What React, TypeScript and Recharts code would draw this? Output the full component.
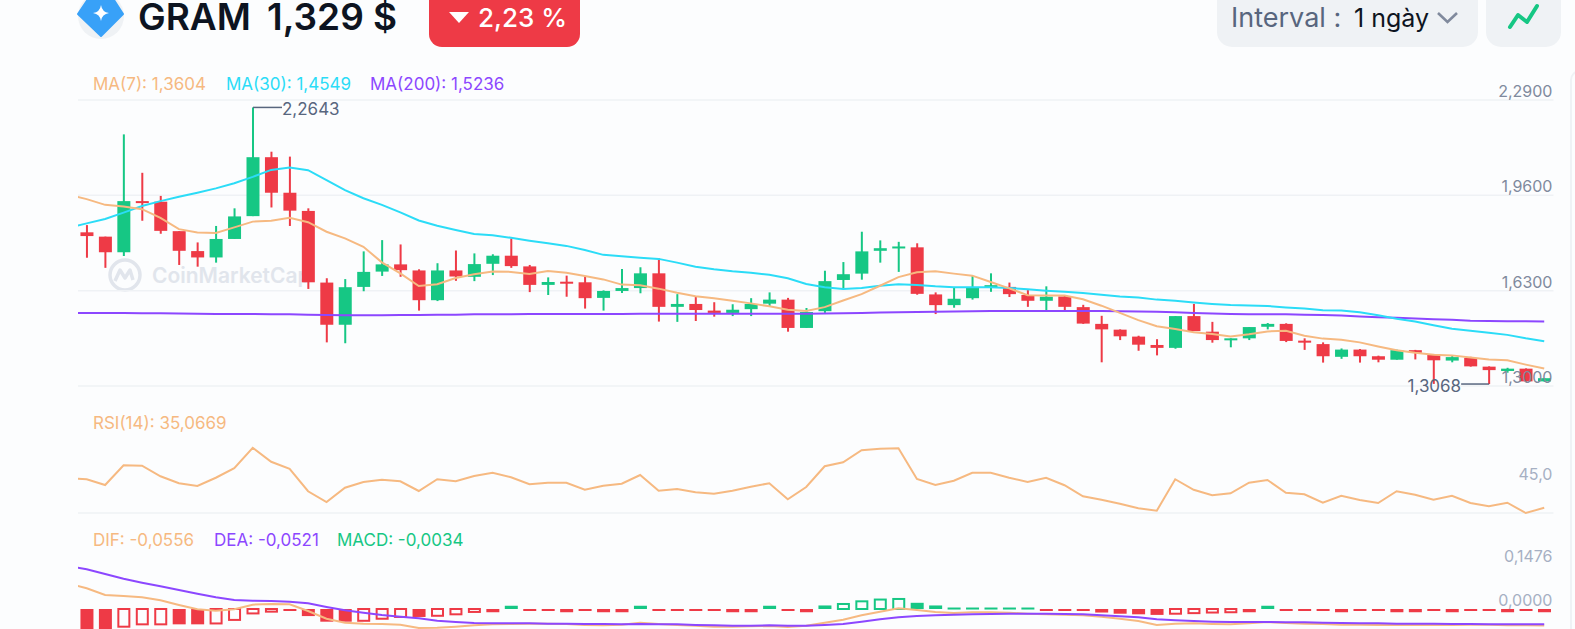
import { ComposedChart, Bar, Line, XAxis, YAxis, CartesianGrid, ReferenceLine } from 'recharts';

const RED = '#ee3a46';
const GREEN = '#16c784';
const ORANGE = '#f6b981';
const CYAN = '#2bdcf7';
const PURPLE = '#8c47ff';
const BG = '#fcfdfe';
const GRID = '#eff2f5';
const FONT = 'Inter, sans-serif';

// one candle per day
const opens = [
  1.832, 1.817, 1.763, 1.94, 1.938, 1.836, 1.767, 1.745, 1.809, 1.888,
  2.092, 1.969, 1.906, 1.658, 1.512, 1.643, 1.696, 1.721, 1.7, 1.597,
  1.7, 1.678, 1.723, 1.751, 1.714, 1.65, 1.661, 1.659, 1.605, 1.629,
  1.639, 1.69, 1.574, 1.584, 1.561, 1.553, 1.566, 1.585, 1.599, 1.501,
  1.559, 1.667, 1.689, 1.768, 1.778, 1.78, 1.617, 1.58, 1.604, 1.642,
  1.643, 1.615, 1.595, 1.61, 1.573, 1.515, 1.495, 1.471, 1.442, 1.432,
  1.542, 1.488, 1.46, 1.465, 1.505, 1.515, 1.457, 1.445, 1.401, 1.426,
  1.403, 1.391, 1.424, 1.408, 1.388, 1.397, 1.367, 1.352, 1.36, 1.316,
];
const closes = [
  1.819, 1.763, 1.94, 1.936, 1.837, 1.768, 1.745, 1.809, 1.887, 2.092,
  1.969, 1.907, 1.659, 1.512, 1.642, 1.695, 1.721, 1.701, 1.597, 1.7,
  1.679, 1.722, 1.751, 1.715, 1.65, 1.66, 1.655, 1.604, 1.629, 1.639,
  1.69, 1.574, 1.584, 1.563, 1.553, 1.564, 1.584, 1.599, 1.501, 1.556,
  1.663, 1.687, 1.766, 1.777, 1.783, 1.619, 1.58, 1.602, 1.642, 1.649,
  1.618, 1.595, 1.609, 1.574, 1.516, 1.496, 1.472, 1.443, 1.432, 1.542,
  1.49, 1.459, 1.465, 1.504, 1.515, 1.456, 1.45, 1.403, 1.426, 1.403,
  1.391, 1.424, 1.415, 1.389, 1.4, 1.368, 1.355, 1.36, 1.316, 1.327,
];
const lows = [
  1.744, 1.709, 1.75, 1.872, 1.827, 1.719, 1.713, 1.727, 1.809, 1.888,
  1.918, 1.854, 1.636, 1.451, 1.448, 1.628, 1.681, 1.678, 1.561, 1.594,
  1.664, 1.663, 1.684, 1.709, 1.625, 1.615, 1.609, 1.568, 1.561, 1.622,
  1.621, 1.523, 1.522, 1.525, 1.54, 1.542, 1.542, 1.577, 1.488, 1.501,
  1.553, 1.636, 1.668, 1.727, 1.695, 1.616, 1.549, 1.571, 1.599, 1.626,
  1.608, 1.574, 1.562, 1.563, 1.515, 1.382, 1.459, 1.422, 1.406, 1.429,
  1.49, 1.45, 1.434, 1.459, 1.496, 1.452, 1.425, 1.381, 1.394, 1.381,
  1.382, 1.391, 1.392, 1.3072, 1.382, 1.367, 1.3068, 1.346, 1.315, 1.315,
];
const highs = [
  1.857, 1.817, 2.171, 2.038, 1.958, 1.836, 1.797, 1.854, 1.915, 2.2643,
  2.111, 2.094, 1.915, 1.673, 1.67, 1.766, 1.805, 1.79, 1.704, 1.725,
  1.769, 1.759, 1.756, 1.811, 1.719, 1.676, 1.682, 1.678, 1.631, 1.705,
  1.711, 1.742, 1.618, 1.609, 1.59, 1.583, 1.604, 1.624, 1.605, 1.57,
  1.699, 1.729, 1.834, 1.804, 1.799, 1.794, 1.624, 1.64, 1.681, 1.69,
  1.658, 1.632, 1.645, 1.614, 1.581, 1.543, 1.496, 1.474, 1.462, 1.542,
  1.584, 1.522, 1.465, 1.504, 1.518, 1.517, 1.465, 1.451, 1.43, 1.428,
  1.405, 1.426, 1.425, 1.411, 1.407, 1.401, 1.368, 1.363, 1.361, 1.327,
];

// the line arrays carry one extra leading value: the lines come in from off the left edge
const ma7 = [
  1.963, 1.947, 1.927, 1.921, 1.912, 1.882, 1.843, 1.831, 1.83, 1.849, 1.869,
  1.872, 1.882, 1.867, 1.834, 1.811, 1.782, 1.728, 1.69, 1.646, 1.652,
  1.674, 1.687, 1.696, 1.695, 1.688, 1.698, 1.692, 1.681, 1.669, 1.651,
  1.649, 1.637, 1.623, 1.611, 1.604, 1.595, 1.586, 1.576, 1.564, 1.56,
  1.573, 1.596, 1.618, 1.647, 1.677, 1.694, 1.697, 1.689, 1.682, 1.66,
  1.638, 1.614, 1.613, 1.613, 1.6, 1.578, 1.553, 1.528, 1.507, 1.497,
  1.486, 1.48, 1.471, 1.479, 1.489, 1.491, 1.474, 1.464, 1.46, 1.451,
  1.437, 1.424, 1.415, 1.408, 1.406, 1.399, 1.392, 1.389, 1.374, 1.3604,
];
const ma30 = [
  1.847, 1.863, 1.878, 1.9, 1.923, 1.94, 1.955, 1.969, 1.984, 2.002, 2.024,
  2.048, 2.056, 2.047, 2.013, 1.978, 1.95, 1.927, 1.901, 1.873, 1.855,
  1.84, 1.826, 1.822, 1.813, 1.803, 1.794, 1.785, 1.771, 1.754, 1.749,
  1.744, 1.74, 1.727, 1.713, 1.704, 1.697, 1.692, 1.685, 1.673, 1.653,
  1.642, 1.636, 1.639, 1.647, 1.652, 1.65, 1.645, 1.642, 1.642, 1.642,
  1.639, 1.635, 1.63, 1.626, 1.622, 1.616, 1.61, 1.606, 1.599, 1.595,
  1.589, 1.584, 1.58, 1.579, 1.577, 1.572, 1.568, 1.562, 1.561, 1.555,
  1.545, 1.533, 1.523, 1.51, 1.498, 1.491, 1.484, 1.477, 1.465, 1.4549,
];
const ma200 = [
  1.553, 1.553, 1.553, 1.553, 1.552, 1.552, 1.551, 1.55, 1.549, 1.549, 1.549,
  1.548, 1.548, 1.547, 1.546, 1.545, 1.545, 1.545, 1.546, 1.546, 1.547,
  1.547, 1.548, 1.548, 1.548, 1.549, 1.549, 1.549, 1.549, 1.549, 1.549,
  1.55, 1.55, 1.55, 1.55, 1.55, 1.55, 1.55, 1.55, 1.55, 1.55,
  1.551, 1.552, 1.553, 1.554, 1.555, 1.556, 1.557, 1.558, 1.559, 1.56,
  1.56, 1.56, 1.56, 1.56, 1.56, 1.56, 1.559, 1.558, 1.557, 1.555,
  1.553, 1.551, 1.549, 1.548, 1.548, 1.548, 1.547, 1.546, 1.544, 1.541,
  1.538, 1.536, 1.534, 1.531, 1.529, 1.526, 1.525, 1.524, 1.524, 1.5236,
];
const rsi = [
  46.9, 46.5, 44.2, 52.1, 51.9, 47.7, 44.9, 43.8, 47.1, 50.9, 59.1,
  53.5, 50.7, 41.7, 37.4, 43.1, 45.4, 46.3, 45.7, 41.8, 46.5,
  45.7, 47.8, 49.1, 47.3, 44.5, 45.1, 45.1, 42.3, 43.9, 44.7,
  48.2, 41.9, 42.6, 41.3, 40.7, 41.9, 43.5, 44.9, 38.5, 43.4,
  51.7, 53.3, 58.1, 58.7, 58.9, 46.6, 44.2, 45.9, 49.1, 49.1,
  47.1, 45.4, 47.1, 44.1, 39.7, 38.3, 36.7, 34.9, 33.9, 46.5,
  42.3, 40.1, 40.9, 45.1, 46.2, 41.1, 40.5, 37.1, 39.9, 38.2,
  37.0, 41.7, 40.3, 38.3, 39.9, 37.0, 35.7, 37.1, 33.0, 35.07,
];
const dif = [
  0.087, 0.0701, 0.0475, 0.0441, 0.0395, 0.0294, 0.0136, -0.0011, -0.0056, -0.0011, 0.0147,
  0.0169, 0.0158, -0.0068, -0.0328, -0.0463, -0.0497, -0.0508, -0.0531, -0.0644, -0.0633,
  -0.0599, -0.0554, -0.052, -0.0508, -0.0497, -0.0497, -0.0508, -0.0542, -0.0554, -0.0531,
  -0.0463, -0.0508, -0.0542, -0.0565, -0.0599, -0.0599, -0.0588, -0.0576, -0.061, -0.0565,
  -0.0463, -0.0362, -0.0215, -0.009, 0.0023, -0.0034, -0.0102, -0.0136, -0.0113, -0.0113,
  -0.0124, -0.0158, -0.0181, -0.0192, -0.0215, -0.026, -0.0328, -0.0407, -0.0542, -0.0497,
  -0.0486, -0.0508, -0.052, -0.0486, -0.0441, -0.0475, -0.0497, -0.0508, -0.0531, -0.0531,
  -0.0542, -0.0542, -0.0531, -0.0542, -0.0542, -0.0531, -0.0531, -0.0554, -0.0554, -0.0556,
];
const dea = [
  0.1458, 0.1345, 0.1186, 0.1028, 0.0893, 0.0768, 0.0644, 0.052, 0.0395, 0.0305, 0.0282,
  0.0271, 0.0249, 0.0192, 0.0068, -0.0045, -0.0124, -0.0203, -0.026, -0.0316, -0.0395,
  -0.0441, -0.0475, -0.0486, -0.0486, -0.0486, -0.0497, -0.0497, -0.0508, -0.0508, -0.052,
  -0.0508, -0.052, -0.052, -0.0542, -0.0554, -0.0565, -0.0565, -0.0554, -0.0565, -0.0565,
  -0.0542, -0.0508, -0.0429, -0.035, -0.0282, -0.0237, -0.0215, -0.0192, -0.0181, -0.0169,
  -0.0158, -0.0158, -0.0158, -0.0169, -0.0181, -0.0215, -0.0249, -0.0282, -0.035, -0.0384,
  -0.0407, -0.043, -0.0441, -0.0441, -0.0441, -0.0452, -0.0452, -0.0463, -0.0475, -0.0486,
  -0.0486, -0.0497, -0.0497, -0.0497, -0.0508, -0.0508, -0.052, -0.052, -0.0521, -0.0521,
];
const macd = [
  -0.075, -0.075, -0.06, -0.052, -0.052, -0.052, -0.052, -0.049, -0.037, -0.015,
  -0.009, -0.005, -0.024, -0.043, -0.043, -0.04, -0.033, -0.027, -0.027, -0.023,
  -0.018, -0.01, -0.011, 0.011, -0.005, -0.005, -0.011, -0.005, -0.011, -0.011,
  0.011, -0.005, -0.005, -0.005, -0.005, -0.011, -0.011, 0.011, -0.005, -0.011,
  0.012, 0.017, 0.026, 0.032, 0.034, 0.021, 0.012, 0.005, 0.005, 0.005,
  0.005, 0.005, -0.005, -0.005, -0.005, -0.012, -0.016, -0.018, -0.02, -0.016,
  -0.014, -0.012, -0.011, -0.011, 0.011, -0.005, -0.005, -0.005, -0.011, -0.005,
  -0.005, -0.011, -0.011, -0.005, -0.011, -0.005, -0.005, -0.011, -0.005, -0.011,
];
const hollowBars = [2, 3, 4, 7, 8, 9, 10, 15, 16, 17, 19, 20, 21, 41, 42, 43, 44, 59, 60, 61, 62];

const priceTicks = [1.3, 1.63, 1.96, 2.29];
const rsiTicks = [45];
const macdTicks = [0, 0.1476];
const peakIndex = 9;
const troughIndex = 76;

const rows = ma7.map((m, k) => {
  const i = k - 1;
  const row: any = { idx: k, ma7: m, ma30: ma30[k], ma200: ma200[k], rsi: rsi[k], dif: dif[k], dea: dea[k] };
  if (i >= 0) {
    row.i = i;
    row.open = opens[i];
    row.close = closes[i];
    row.low = lows[i];
    row.high = highs[i];
    row.range = [lows[i], highs[i]];
    row.macd = macd[i];
    row.hollow = hollowBars.includes(i);
  }
  return row;
});

const comma = (v: number, digits: number) => v.toFixed(digits).replace('.', ',');

function Candle(props: any) {
  const { x, y, width, height, payload } = props;
  if (!payload || payload.open == null) return null;
  const top = Math.min(y, y + height);
  const h = Math.abs(height);
  const perUnit = h / (payload.high - payload.low);
  const color = payload.close >= payload.open ? GREEN : RED;
  const bodyTop = top + (payload.high - Math.max(payload.open, payload.close)) * perUnit;
  const bodyH = Math.max(Math.abs(payload.open - payload.close) * perUnit, 2);
  const cx = x + width / 2;
  return (
    <g>
      <rect x={cx - 1} y={top} width={2} height={h} fill={color} />
      <rect x={x} y={bodyTop} width={width} height={bodyH} fill={color} />
      {payload.i === peakIndex && (
        <g>
          <line x1={cx} y1={top} x2={cx + 29} y2={top} stroke="#58667e" strokeWidth={1.5} />
          <text x={cx + 29} y={top + 8} fontSize={17} fontFamily={FONT} fill="#58667e">
            {comma(payload.high, 4)}
          </text>
        </g>
      )}
      {payload.i === troughIndex && (
        <g>
          <line x1={cx} y1={top + h} x2={cx - 28} y2={top + h} stroke="#58667e" strokeWidth={1.5} />
          <text x={cx - 28} y={top + h + 8} fontSize={17} fontFamily={FONT} fill="#58667e" textAnchor="end">
            {comma(payload.low, 4)}
          </text>
        </g>
      )}
    </g>
  );
}

function MacdBar(props: any) {
  const { x, y, width, height, payload } = props;
  if (!payload || payload.macd == null) return null;
  const top = Math.min(y, y + height);
  const h = Math.max(Math.abs(height), 2);
  const color = payload.macd >= 0 ? GREEN : RED;
  if (payload.hollow) {
    return <rect x={x + 1} y={top} width={width - 2} height={h} fill={BG} stroke={color} strokeWidth={2} />;
  }
  return <rect x={x} y={top} width={width} height={h} fill={color} />;
}

const CHART_W = 1494.45;

const axisTick = (digits: number, color: string) => (props: any) => (
  <text x={CHART_W - 1} y={props.y - 3} textAnchor="end" fontSize={16} fontFamily={FONT} fill={color}>
    {comma(props.payload.value, digits)}
  </text>
);

function legendStyle(left: number, top: number, color: string): React.CSSProperties {
  return { position: 'absolute', left, top, color, fontSize: 17, lineHeight: '20px', whiteSpace: 'nowrap' };
}

function Header() {
  return (
    <>
      <svg width={60} height={46} style={{ position: 'absolute', left: 72, top: 0 }}>
        <circle cx={29} cy={16} r={23} fill="#eff2f5" />
        <path d="M29 -20 L51 14 L29 36 L6 14 Z" fill="#38a1f8" stroke="#38a1f8" strokeWidth={2} strokeLinejoin="round" />
        <path d="M29 5 Q30 12 37 13 Q30 14 29 21 Q28 14 21 13 Q28 12 29 5 Z" fill="#fff" />
      </svg>
      <div style={{ position: 'absolute', left: 138, top: 0, fontSize: 37, fontWeight: 600, lineHeight: '34px', color: '#0d1421' }}>GRAM</div>
      <div style={{ position: 'absolute', left: 267, top: 0, fontSize: 37, fontWeight: 600, lineHeight: '34px', color: '#0d1421' }}>1,329 $</div>
      <div style={{ position: 'absolute', left: 429, top: -14, width: 151, height: 61, background: RED, borderRadius: 13 }} />
      <svg width={22} height={12} style={{ position: 'absolute', left: 449, top: 12 }}>
        <path d="M0 0 H20 L10 11 Z" fill="#fff" />
      </svg>
      <div style={{ position: 'absolute', left: 478, top: 1, fontSize: 26, fontWeight: 500, lineHeight: '34px', color: '#fff', whiteSpace: 'nowrap' }}>2,23 %</div>

      <div style={{ position: 'absolute', left: 1217, top: -14, width: 261, height: 61, background: GRID, borderRadius: 15 }} />
      <div style={{ position: 'absolute', left: 1231, top: 1, fontSize: 27, lineHeight: '34px', color: '#58667e', whiteSpace: 'nowrap' }}>Interval :</div>
      <div style={{ position: 'absolute', left: 1354, top: 1, fontSize: 25, lineHeight: '34px', color: '#0d1421', whiteSpace: 'nowrap' }}>1 ngày</div>
      <svg width={24} height={14} style={{ position: 'absolute', left: 1436, top: 11 }}>
        <path d="M2 2 L11.5 11 L21 2" fill="none" stroke="#808a9d" strokeWidth={2.6} />
      </svg>
      <div style={{ position: 'absolute', left: 1486, top: -14, width: 75, height: 61, background: GRID, borderRadius: 15 }} />
      <svg width={40} height={32} style={{ position: 'absolute', left: 1504, top: 0 }}>
        <path d="M6 27 L14 15 L23 22 L33 6" fill="none" stroke={GREEN} strokeWidth={4} strokeLinecap="round" strokeLinejoin="round" />
      </svg>
      <div style={{ position: 'absolute', left: 1570, top: 70, width: 12, height: 600, borderLeft: `2px solid ${GRID}`, borderTop: `2px solid ${GRID}`, borderTopLeftRadius: 10 }} />
    </>
  );
}

function Watermark() {
  return (
    <>
      <svg width={36} height={36} style={{ position: 'absolute', left: 107, top: 257 }}>
        <circle cx={18} cy={18} r={15} fill="none" stroke="#e1e5ec" strokeWidth={3.5} />
        <path d="M8 24 L13 13 L18 21 L23 13 L26 23" fill="none" stroke="#e1e5ec" strokeWidth={3.5} strokeLinejoin="round" />
      </svg>
      <div style={{ position: 'absolute', left: 152, top: 262, fontSize: 21, fontWeight: 600, lineHeight: '28px', color: '#e1e5ec', whiteSpace: 'nowrap' }}>CoinMarketCap</div>
    </>
  );
}

export default function App() {
  return (
    <div style={{ position: 'fixed', left: 0, top: 0, width: 1575, height: 629, overflow: 'hidden', background: BG, fontFamily: FONT }}>
      <Header />

      <div style={legendStyle(93, 74, ORANGE)}>MA(7): 1,3604</div>
      <div style={legendStyle(226, 74, CYAN)}>MA(30): 1,4549</div>
      <div style={legendStyle(370, 74, PURPLE)}>MA(200): 1,5236</div>
      <div style={legendStyle(93, 413, ORANGE)}>RSI(14): 35,0669</div>
      <div style={legendStyle(93, 530, ORANGE)}>DIF: -0,0556</div>
      <div style={legendStyle(214, 530, PURPLE)}>DEA: -0,0521</div>
      <div style={legendStyle(337, 530, GREEN)}>MACD: -0,0034</div>

      <Watermark />

      <div style={{ position: 'absolute', left: 78, top: 0, width: 1476, height: 629, overflow: 'hidden' }}>
        <div style={{ position: 'absolute', left: -18.65, top: 70 }}>
          <ComposedChart width={CHART_W} height={330} data={rows} margin={{ top: 30, right: 0, bottom: 14, left: 0 }}>
            <CartesianGrid vertical={false} stroke={GRID} strokeWidth={1.5} />
            <XAxis dataKey="idx" scale="band" hide />
            <YAxis
              orientation="right"
              mirror
              domain={[1.3, 2.29]}
              ticks={priceTicks}
              axisLine={false}
              tickLine={false}
              interval={0}
              tick={axisTick(4, '#808a9d')}
            />
            <Bar dataKey="range" barSize={13} shape={Candle} isAnimationActive={false} />
            <Line dataKey="ma200" stroke={PURPLE} strokeWidth={2} dot={false} isAnimationActive={false} />
            <Line dataKey="ma30" stroke={CYAN} strokeWidth={2} dot={false} isAnimationActive={false} />
            <Line dataKey="ma7" stroke={ORANGE} strokeWidth={2} dot={false} isAnimationActive={false} />
          </ComposedChart>
        </div>

        <div style={{ position: 'absolute', left: -18.65, top: 420 }}>
          <ComposedChart width={CHART_W} height={100} data={rows} margin={{ top: 13, right: 0, bottom: 7, left: 0 }}>
            <XAxis dataKey="idx" scale="band" hide />
            <YAxis
              orientation="right"
              mirror
              domain={[33, 65]}
              ticks={rsiTicks}
              axisLine={false}
              tickLine={false}
              interval={0}
              tick={axisTick(1, '#a6b0c3')}
            />
            <ReferenceLine y={33} stroke={GRID} strokeWidth={1.5} />
            <Line dataKey="rsi" stroke={ORANGE} strokeWidth={2} dot={false} isAnimationActive={false} />
          </ComposedChart>
        </div>

        <div style={{ position: 'absolute', left: -18.65, top: 545 }}>
          <ComposedChart width={CHART_W} height={100} data={rows} margin={{ top: 15, right: 0, bottom: 5, left: 0 }}>
            <XAxis dataKey="idx" scale="band" hide />
            <YAxis
              orientation="right"
              mirror
              domain={[-0.1051, 0.1661]}
              ticks={macdTicks}
              axisLine={false}
              tickLine={false}
              interval={0}
              tick={axisTick(4, '#a6b0c3')}
            />
            <Bar dataKey="macd" barSize={13} shape={MacdBar} isAnimationActive={false} />
            <Line dataKey="dif" stroke={ORANGE} strokeWidth={2} dot={false} isAnimationActive={false} />
            <Line dataKey="dea" stroke={PURPLE} strokeWidth={2} dot={false} isAnimationActive={false} />
          </ComposedChart>
        </div>
      </div>
    </div>
  );
}
